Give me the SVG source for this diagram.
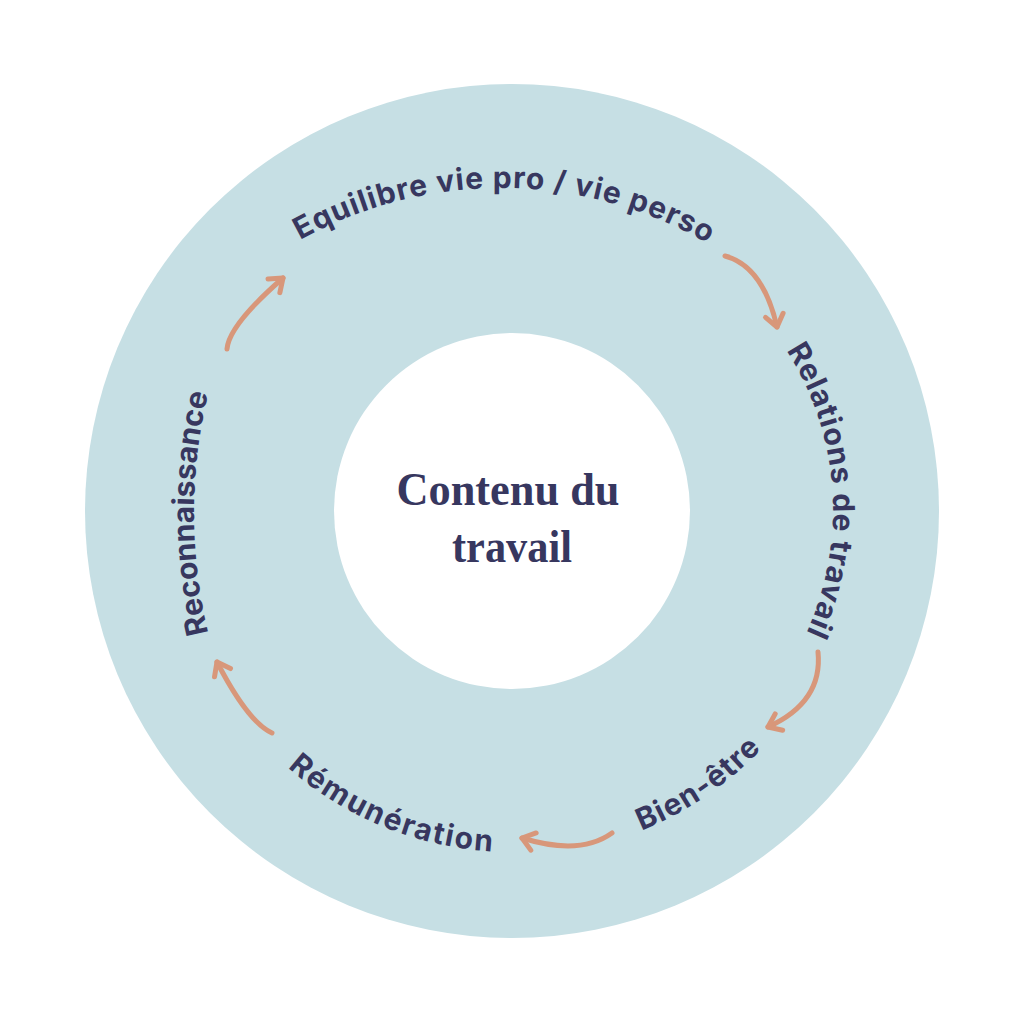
<svg xmlns="http://www.w3.org/2000/svg" width="1024" height="1024" viewBox="0 0 1024 1024">
  <style>
    .lbl { font-family: Inter, "Open Sans", "Liberation Sans", sans-serif; font-weight: 700; font-size: 30px; fill: #37375f; }
    .ctr { font-family: "Liberation Serif", "DejaVu Serif", serif; font-weight: 700; font-size: 46px; fill: #37375f; }
    .arr { fill: none; stroke: #d8977a; stroke-width: 5; stroke-linecap: round; }
  </style>
  <defs>
    <marker id="ah" markerUnits="userSpaceOnUse" viewBox="-20 -20 40 40" markerWidth="40" markerHeight="40" refX="0" refY="0" orient="auto" overflow="visible">
      <path d="M-12,-9 L0,0 L-12,9" fill="none" stroke="#d8977a" stroke-width="5" stroke-linecap="round" stroke-linejoin="round"/>
    </marker>
    <path id="pTop" d="M300.2,240.1 A413,413 0 0 1 766.5,284.6"/>
    <path id="pRight" d="M786.5,350.4 A297,297 0 0 1 763.5,700.9"/>
    <path id="pLeft" d="M208.4,633.1 A507,507 0 0 1 241.5,298.7"/>
    <path id="pBien" d="M641.4,830.7 A344,344 0 0 0 809.9,684"/>
    <path id="pRemu" d="M287.6,767.4 A340,340 0 0 0 571,846.8"/>
  </defs>

  <g id="ring">
    <circle cx="512" cy="511" r="427" fill="#c6dfe4"/>
    <circle cx="512" cy="511" r="178" fill="#ffffff"/>
  </g>

  <g id="center">
    <text class="ctr" x="508" y="505" text-anchor="middle" textLength="223" lengthAdjust="spacingAndGlyphs">Contenu du</text>
    <text class="ctr" x="512" y="562" text-anchor="middle" textLength="120" lengthAdjust="spacingAndGlyphs">travail</text>
  </g>

  <g id="equilibre">
    <text class="lbl"><textPath href="#pTop" textLength="426" lengthAdjust="spacing">Equilibre vie pro / vie perso</textPath></text>
  </g>
  <g id="relations">
    <text class="lbl"><textPath href="#pRight" textLength="295" lengthAdjust="spacing">Relations de travail</textPath></text>
  </g>
  <g id="bienetre">
    <text class="lbl"><textPath href="#pBien" textLength="146" lengthAdjust="spacing">Bien-être</textPath></text>
  </g>
  <g id="remuneration">
    <text class="lbl"><textPath href="#pRemu" textLength="225" lengthAdjust="spacing">Rémunération</textPath></text>
  </g>
  <g id="reconnaissance">
    <text class="lbl"><textPath href="#pLeft" textLength="242" lengthAdjust="spacing">Reconnaissance</textPath></text>
  </g>

  <g id="connectors">
    <path class="arr" d="M725,256 Q763,266 777,327" marker-end="url(#ah)"/>
    <path class="arr" d="M818,652 Q823,702 768,727" marker-end="url(#ah)"/>
    <path class="arr" d="M612,833 Q580,856 522,838" marker-end="url(#ah)"/>
    <path class="arr" d="M272,733 Q248,722 217,662" marker-end="url(#ah)"/>
    <path class="arr" d="M227,349 Q229,325 283,278" marker-end="url(#ah)"/>
  </g>
</svg>
